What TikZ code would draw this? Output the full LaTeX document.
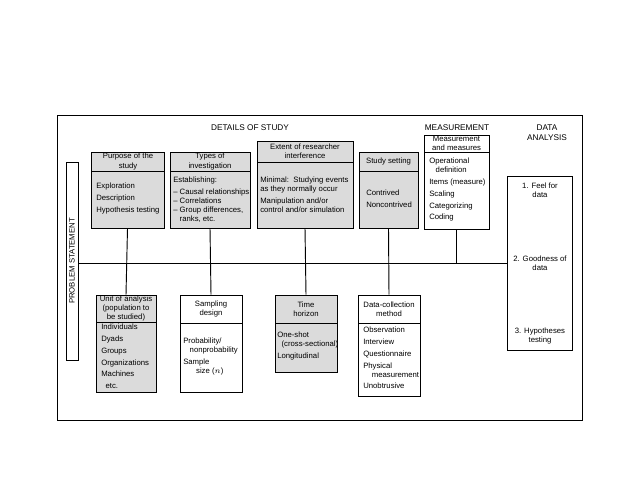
\documentclass[tikz,border=0pt]{standalone}
\usepackage{fontspec}
\setmainfont{Liberation Sans}
\usetikzlibrary{fit}
\begin{document}
\begin{tikzpicture}[x=0.75pt,y=-0.75pt,
  box/.style={draw,line width=0.5pt,inner sep=0pt},
  shade/.style={box,fill=gray!28},
  txt/.style={font=\fontsize{5.8}{6.8}\selectfont,align=left,inner sep=0pt,anchor=north west},
  ctr/.style={font=\fontsize{5.8}{6.8}\selectfont,align=center,inner sep=0pt},
  ttl/.style={font=\fontsize{6.2}{7.4}\selectfont,align=center,inner sep=0pt},
  ln/.style={line width=0.7pt}]
\useasboundingbox (0,0) rectangle (638,478);
\draw[line width=0.7pt] (57,115) rectangle (582,420);
% problem statement
\node[box,fit={(66,162)(78,360)}] (ps) {};
\node[ctr,rotate=90] at (ps.center) {PROBLEM STATEMENT};
\node[ttl] at (250,128) {DETAILS OF STUDY};
\node[ttl] at (457,128) {MEASUREMENT};
\node[ttl] at (547,133) {DATA\\ANALYSIS};
% top boxes
\node[shade,fit={(91,152)(164,228)}] (pu) {};
\draw (91,171) -- (164,171);
\node[ctr] at (128,161.5) {Purpose of the\\study};
\node[txt] at (96,183) {Exploration\\[2pt]Description\\[2pt]Hypothesis testing};
\node[shade,fit={(170,152)(250,228)}] (ty) {};
\draw (170,171) -- (250,171);
\node[ctr] at (210,161.5) {Types of\\investigation};
\node[txt] at (173,177) {Establishing:\\[2pt]-- Causal relationships\\-- Correlations\\-- Group differences,\\\ \ \ ranks, etc.};
\node[shade,fit={(257,141)(353,228)}] (ex) {};
\draw (257,162) -- (353,162);
\node[ctr] at (305,151.5) {Extent of researcher\\interference};
\node[txt] at (260,177) {Minimal:\ \ Studying events\\as they normally occur\\[2pt]Manipulation and/or\\control and/or simulation};
\node[shade,fit={(359,152)(418,228)}] (ss) {};
\draw (359,171) -- (418,171);
\node[ctr] at (388.5,161.5) {Study setting};
\node[txt] at (366,190) {Contrived\\[2pt]Noncontrived};
\node[box,fit={(424,135)(489,229)}] (me) {};
\draw (424,152) -- (489,152);
\node[ctr] at (456.5,143.5) {Measurement\\and measures};
\node[txt] at (429,158) {Operational\\\ \ \ definition\\[2pt]Items (measure)\\[2pt]Scaling\\[2pt]Categorizing\\[2pt]Coding};
\node[box,fit={(507,176)(572,350)}] (da) {};
\node[ctr] at (540,190) {1. Feel for\\data};
\node[ctr] at (540,263) {2. Goodness of\\data};
\node[ctr] at (540,336) {3. Hypotheses\\testing};
% bottom boxes
\node[shade,fit={(96,295)(156,392)}] (un) {};
\draw (96,322) -- (156,322);
\node[ctr] at (126,308.5) {Unit of analysis\\(population to\\be studied)};
\node[txt] at (101,324) {Individuals\\[2pt]Dyads\\[2pt]Groups\\[2pt]Organizations\\[2pt]Machines\\[2pt]\ \ etc.};
\node[box,fit={(180,295)(242,392)}] (sa) {};
\draw (180,323) -- (242,323);
\node[ctr] at (211,309) {Sampling\\design};
\node[txt] at (183,338) {Probability/\\\ \ \ nonprobability\\[2pt]Sample\\\ \ \ \ \ \ size ($n$)};
\node[shade,fit={(275,295)(337,372)}] (ti) {};
\draw (275,323) -- (337,323);
\node[ctr] at (306,309) {Time\\horizon};
\node[txt] at (277,332) {One-shot\\\ \ (cross-sectional)\\[2pt]Longitudinal};
\node[box,fit={(358,295)(420,396)}] (dc) {};
\draw (358,323) -- (420,323);
\node[ctr] at (389,309) {Data-collection\\method};
\node[txt] at (363,327) {Observation\\[2pt]Interview\\[2pt]Questionnaire\\[2pt]Physical\\\ \ \ \ measurement\\[2pt]Unobtrusive};
% connectors
\draw[ln] (ps.east |- 0,263) coordinate (l) -- (da.west |- 0,263) coordinate (r);
\foreach \t/\b in {pu/un,ty/sa,ex/ti,ss/dc}{
  \draw[ln] (\t.south) -- (\b.north);}
\draw[ln] (me.south) -- (me.south |- r);
\end{tikzpicture}
\end{document}
